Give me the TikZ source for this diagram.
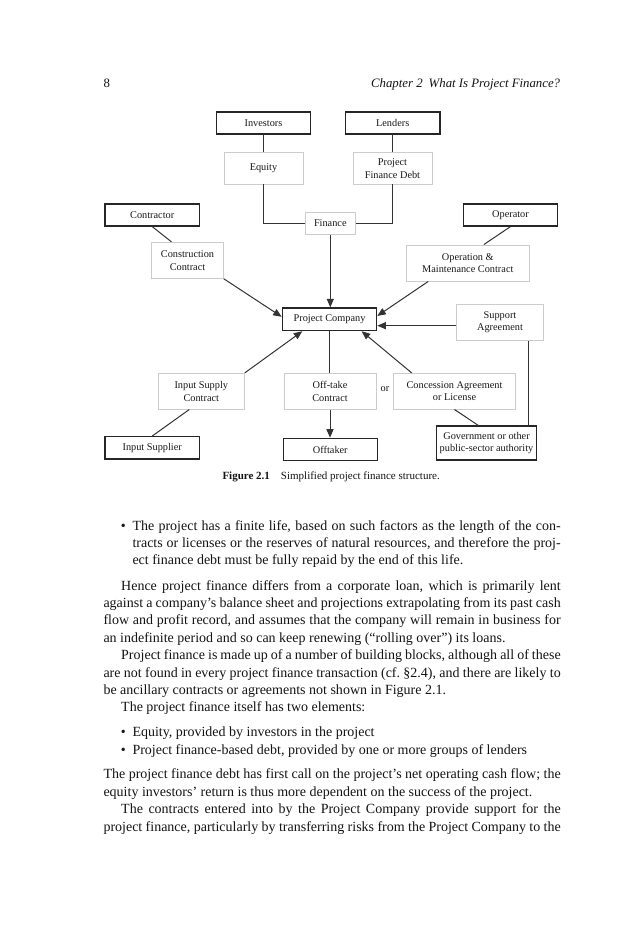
\documentclass[tikz,border=0pt]{standalone}
\usepackage{fontspec}
\setmainfont{Liberation Serif}
\usetikzlibrary{arrows.meta}
\newcommand\mydiagfont{\fontsize{10.3}{12.7}\selectfont}
\newcommand\mybodyfont{\fontsize{14}{17.4}\selectfont}
\newcommand\myheadfont{\fontsize{12.8}{15}\selectfont}
\newcommand\mycapfont{\fontsize{11}{13}\selectfont}
\begin{document}
\begin{tikzpicture}[x=1pt,y=-1pt,
  dk/.style={draw=black!85,line width=1.2pt,inner sep=0pt,align=center,font=\mydiagfont,text=black!90,fill=white},
  gr/.style={draw=black!20,line width=0.9pt,inner sep=0pt,align=center,font=\mydiagfont,fill=white,text=black!90},
  ln/.style={draw=black!80,line width=1pt},
  arr/.style={ln,-{Triangle[length=8.5pt,width=7pt]}},
  bodyline/.style={anchor=base west,inner sep=0pt,font=\mybodyfont,text=black!92},
]
\useasboundingbox[fill=white] (0,0) rectangle (638,942);

% header
\node[bodyline,font=\myheadfont] (pg) at (103.3,87.4) {8};
\node[bodyline,font=\myheadfont,anchor=base east] (hd) at (560.3,87.4) {\textit{Chapter 2\hspace{6pt}What Is Project Finance?}};

% diagram boxes
\node[dk,minimum width=94pt,minimum height=22pt] (inv) at (263.5,123) {Investors};
\node[dk,minimum width=94.5pt,minimum height=22pt] (len) at (392.7,123) {Lenders};
\node[gr,minimum width=79pt,minimum height=31.3pt] (eq) at (263.5,168.3) {Equity};
\node[gr,minimum width=79pt,minimum height=31.3pt] (pfd) at (392.5,168.3) {Project\\Finance Debt};
\node[gr,minimum width=50.7pt,minimum height=21.7pt] (fin) at (330.3,223.2) {Finance};
\node[dk,minimum width=94.3pt,minimum height=22pt] (ctr) at (152.2,215) {Contractor};
\node[dk,minimum width=94.4pt,minimum height=22pt] (opr) at (510.5,215) {Operator};
\node[gr,minimum width=71.6pt,minimum height=36pt] (cc) at (187.5,260.3) {Construction\\Contract};
\node[gr,minimum width=122.3pt,minimum height=36pt] (om) at (467.8,263) {Operation \&\\Maintenance Contract};
\node[dk,minimum width=94.4pt,minimum height=22.7pt] (pc) at (329.5,319.3) {Project Company};
\node[gr,minimum width=86.6pt,minimum height=36.7pt] (sup) at (500,322.3) {Support\\Agreement};
\node[gr,minimum width=86pt,minimum height=35.7pt] (isc) at (201.3,391.2) {Input Supply\\Contract};
\node[gr,minimum width=92pt,minimum height=35.7pt] (otc) at (330,391.2) {Off-take\\Contract};
\node[gr,minimum width=122.4pt,minimum height=35.7pt] (con) at (454.5,391.2) {Concession Agreement\\or License};
\node[inner sep=0pt,font=\mydiagfont,text=black!90] (or) at (385,389.5) {or};
\node[dk,minimum width=94.3pt,minimum height=22.3pt] (isu) at (152.2,447.8) {Input Supplier};
\node[dk,minimum width=94pt,minimum height=22.4pt] (oft) at (330.3,449.5) {Offtaker};
\node[dk,minimum width=99.6pt,minimum height=34pt] (gov) at (486.5,443) {Government or other\\public-sector authority};

% connectors
\draw[ln] (inv.south) -- (eq.north);
\draw[ln] (eq.south) |- (fin.west);
\draw[ln] (len.south) -- (len.south |- pfd.north);
\draw[ln] (pfd.south) |- (fin.east);
\draw[arr] (fin.south) -- (fin.south |- pc.north);
\draw[ln] (ctr.south) -- (cc.131);
\draw[ln] (opr.south) -- (om.49);
\draw[arr] (cc.south east) -- (pc.177);
\draw[arr] (om.205) -- (pc.4);
\draw[arr] ([yshift=-3.4pt]sup.west) -- ([yshift=-3.4pt]sup.west -| pc.east);
\draw[ln] ([xshift=28.3pt]sup.south) -- ([xshift=28.3pt]sup.south |- gov.north);
\draw[arr] (isc.north east) -- ([xshift=-27.2pt]pc.south);
\draw[ln] (pc.south) -- (pc.south |- otc.north);
\draw[arr] (otc.south) -- (otc.south |- oft.north);
\draw[arr] ([xshift=-42.8pt]con.north) -- ([xshift=32.2pt]pc.south);
\draw[ln] ([xshift=-12pt]isc.south) -- (isu.north);
\draw[ln] (con.south) -- ([xshift=-8.2pt]gov.north);

% caption
\node[anchor=base west,inner sep=0pt,font=\mycapfont,text=black!92] (cap) at (222.3,479) {\textbf{Figure 2.1}\hspace{11pt}Simplified project finance structure.};

% body text
\node[bodyline] (b1) at (120.7,530) {\textbullet};
\node[bodyline] (t1) at (132.3,530) {\makebox[428.2pt][s]{The project has a finite life, based on such factors as the length of the con-}};
\node[bodyline] (t2) at (132.3,547.4) {\makebox[428.2pt][s]{tracts or licenses or the reserves of natural resources, and therefore the proj-}};
\node[bodyline] (t3) at (132.3,564.8) {ect finance debt must be fully repaid by the end of this life.};

\node[bodyline] (t4) at (121,590) {\makebox[439.5pt][s]{Hence project finance differs from a corporate loan, which is primarily lent}};
\node[bodyline] (t5) at (103.3,607.4) {\makebox[457.2pt][s]{against a company’s balance sheet and projections extrapolating from its past cash}};
\node[bodyline] (t6) at (103.3,624.8) {\makebox[457.2pt][s]{flow and profit record, and assumes that the company will remain in business for}};
\node[bodyline] (t7) at (103.3,642.2) {an indefinite period and so can keep renewing (“rolling over”) its loans.};

\node[bodyline] (t8) at (121,659.6) {\makebox[439.5pt][s]{Project finance is made up of a number of building blocks, although all of these}};
\node[bodyline] (t9) at (103.3,677) {\makebox[457.2pt][s]{are not found in every project finance transaction (cf.\ §2.4), and there are likely to}};
\node[bodyline] (t10) at (103.3,694.4) {be ancillary contracts or agreements not shown in Figure 2.1.};

\node[bodyline] (t11) at (121,711.8) {The project finance itself has two elements:};

\node[bodyline] (b2) at (120.7,736.5) {\textbullet};
\node[bodyline] (t12) at (132.3,736.5) {Equity, provided by investors in the project};
\node[bodyline] (b3) at (120.7,754) {\textbullet};
\node[bodyline] (t13) at (132.3,754) {Project finance-based debt, provided by one or more groups of lenders};

\node[bodyline] (t14) at (103.3,778.8) {\makebox[457.2pt][s]{The project finance debt has first call on the project’s net operating cash flow; the}};
\node[bodyline] (t15) at (103.3,796.2) {equity investors’ return is thus more dependent on the success of the project.};

\node[bodyline] (t16) at (121,813.6) {\makebox[439.5pt][s]{The contracts entered into by the Project Company provide support for the}};
\node[bodyline] (t17) at (103.3,831) {\makebox[457.2pt][s]{project finance, particularly by transferring risks from the Project Company to the}};
\end{tikzpicture}
\end{document}
